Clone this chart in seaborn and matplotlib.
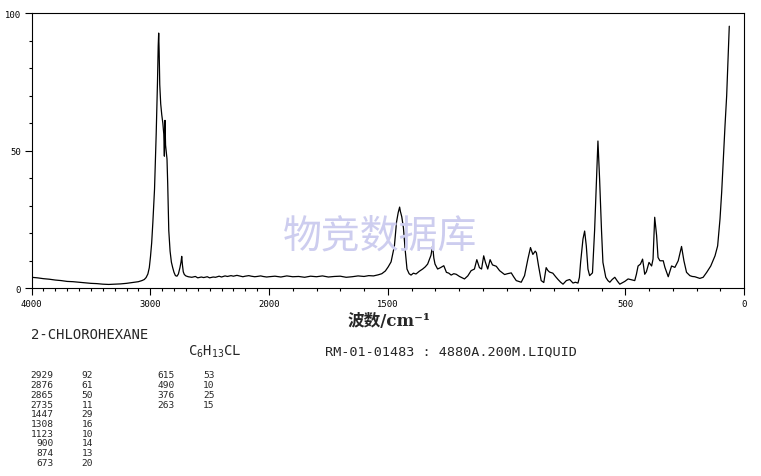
import numpy as np
import pandas as pd
import matplotlib

matplotlib.use("Agg")
import matplotlib.pyplot as plt
import seaborn as sns
from matplotlib.ticker import FixedLocator, FixedFormatter

######Spectrum values (wavenumber cm-1, intensity %)
wavenumber = [
    4000, 3950, 3900, 3850, 3800, 3750, 3700, 3650, 3600, 3550, 3500, 3450,
    3400, 3350, 3300, 3250, 3200, 3150, 3100, 3070, 3050, 3035, 3020, 3008,
    2998, 2988, 2978, 2964, 2950, 2939, 2933, 2929, 2925, 2920, 2912, 2903,
    2894, 2886, 2881, 2876, 2871, 2866, 2859, 2853, 2844, 2833, 2822, 2811,
    2800, 2788, 2775, 2763, 2750, 2741, 2735, 2729, 2722, 2713, 2700, 2680,
    2650, 2620, 2600, 2570, 2550, 2520, 2500, 2470, 2450, 2420, 2400, 2370,
    2350, 2320, 2300, 2270, 2250, 2220, 2200, 2170, 2150, 2120, 2100, 2070,
    2050, 2020, 2000, 1975, 1950, 1925, 1900, 1875, 1850, 1825, 1800, 1775,
    1750, 1725, 1700, 1675, 1650, 1625, 1600, 1580, 1560, 1540, 1525, 1510,
    1498, 1486, 1472, 1463, 1456, 1450, 1447, 1441, 1434, 1427, 1419, 1410,
    1402, 1392, 1381, 1367, 1353, 1342, 1332, 1318, 1311, 1306, 1301, 1290,
    1278, 1264, 1253, 1243, 1233, 1222, 1212, 1198, 1177, 1163, 1149, 1135,
    1125, 1114, 1105, 1096, 1089, 1079, 1069, 1059, 1043, 1029, 1008, 996,
    980, 970, 959, 948, 938, 924, 910, 899, 889, 879, 874, 865, 854, 843,
    833, 826, 819, 805, 793, 783, 772, 762, 748, 734, 720, 710, 699, 693,
    688, 678, 671, 664, 657, 650, 638, 629, 621, 615, 608, 600, 594, 582,
    573, 565, 555, 544, 533, 523, 512, 502, 488, 474, 460, 453, 446, 436,
    427, 418, 411, 400, 389, 383, 376, 368, 362, 354, 340, 333, 319, 305,
    291, 277, 263, 253, 242, 228, 218, 207, 196, 186, 172, 157, 140, 122,
    111, 101, 94, 87, 80, 73, 66, 62,
]
intensity = [
    4.0, 3.8, 3.5, 3.3, 3.0, 2.8, 2.5, 2.4, 2.2, 2.0, 1.8, 1.7,
    1.5, 1.4, 1.5, 1.6, 1.8, 2.1, 2.4, 2.8, 3.2, 3.9, 5.2, 7.5,
    11.5, 16.5, 24.0, 36.0, 56.0, 75.0, 88.0, 92.7, 86.0, 74.0, 67.0, 63.0,
    60.0, 56.0, 48.0, 61.0, 52.0, 50.0, 47.0, 38.0, 21.0, 13.5, 9.5, 7.5,
    5.8, 4.6, 4.4, 5.2, 7.5, 9.5, 11.6, 8.5, 6.0, 5.0, 4.5, 4.2,
    4.0, 4.3, 3.8, 4.1, 3.9, 4.2, 3.8, 4.1, 4.0, 4.4, 4.1, 4.5,
    4.3, 4.6, 4.4, 4.7, 4.5, 4.2, 4.4, 4.6, 4.4, 4.2, 4.3, 4.5,
    4.3, 4.1, 4.2, 4.4, 4.1, 4.5, 4.2, 4.3, 4.0, 4.4, 4.2, 4.5,
    4.1, 4.3, 4.4, 4.0, 4.2, 4.5, 4.3, 4.6, 4.5, 4.9, 5.3, 6.3,
    7.8, 9.6, 15.4, 24.1, 27.5, 29.5, 28.0, 26.0, 22.0, 14.3, 7.0, 5.3,
    4.8, 5.5, 5.2, 6.2, 7.0, 7.8, 8.8, 12.0, 15.5, 11.0, 8.8, 7.0,
    7.5, 8.2, 5.8, 5.5, 4.8, 5.3, 5.1, 4.3, 3.4, 4.5, 6.4, 7.0,
    10.4, 7.5, 7.0, 11.8, 9.5, 7.0, 10.4, 8.5, 8.0, 6.4, 5.0, 5.3,
    5.6, 4.2, 2.8, 2.5, 2.2, 4.6, 10.6, 14.8, 12.3, 13.5, 12.9, 8.1,
    2.8, 2.1, 7.5, 6.5, 5.9, 5.5, 4.2, 3.2, 2.2, 1.5, 2.8, 3.2,
    1.9, 2.2, 1.9, 4.0, 9.4, 17.9, 20.8, 15.4, 7.0, 4.6, 5.6, 21.1,
    39.7, 53.5, 39.7, 21.1, 9.4, 4.0, 2.8, 2.2, 3.2, 4.0, 2.6, 1.5,
    2.0, 2.5, 3.4, 3.1, 2.8, 5.1, 8.1, 8.8, 10.6, 5.1, 6.0, 9.4,
    8.1, 10.6, 25.8, 19.2, 11.2, 10.0, 10.0, 7.6, 4.2, 8.1, 7.6, 10.0,
    15.2, 10.0, 5.8, 4.6, 4.3, 4.2, 3.9, 3.6, 4.0, 5.8, 8.1, 11.8,
    15.4, 25.2, 34.9, 46.9, 59.0, 69.9, 85.6, 95.2,
]

######Peak table printed under the chart
peak_wn_a = [2929, 2876, 2865, 2735, 1447, 1308, 1123, 900, 874, 673]
peak_int_a = [92, 61, 50, 11, 29, 16, 10, 14, 13, 20]
peak_wn_b = [615, 490, 376, 263]
peak_int_b = [53, 10, 25, 15]

compound = "2-CHLOROHEXANE"
formula = "C$_6$H$_{13}$CL"
sample_info = "RM-01-01483 : 4880A.200M.LIQUID"
x_label = "波数/cm⁻¹"
watermark = "物竞数据库"

major_ticks = [4000, 3000, 2000, 1500, 500, 0]
major_labels = ["4000", "3000", "2000", "1500", "500", "0"]
y_ticks = [0, 50, 100]

spec = pd.DataFrame({"wn": wavenumber, "inten": intensity})

sns.set_style("ticks")
plt.rcParams["font.family"] = ["DejaVu Sans Mono", "DejaVu Sans"]
plt.rcParams["mathtext.fontset"] = "custom"
plt.rcParams["mathtext.rm"] = "DejaVu Sans Mono"
plt.rcParams["mathtext.it"] = "DejaVu Sans Mono"

W, H = 761, 477


def fx(px):
    return px / W


def fy(py):
    return 1 - py / H


# wavenumbers above 2000 are drawn at half scale
def fwd(x):
    x = np.asarray(x, dtype=float)
    return np.where(x > 2000, 2000 + (x - 2000) / 2.0, x)


def inv(x):
    x = np.asarray(x, dtype=float)
    return np.where(x > 2000, 2000 + (x - 2000) * 2.0, x)


fig = plt.figure(figsize=(W / 100, H / 100), dpi=100)
ax = fig.add_axes([fx(31.5), fy(289.3), fx(744) - fx(31.5), fy(14) - fy(289.3)])

fig.text(
    fx(380), fy(238), watermark, ha="center", va="center",
    fontsize=28, color="#cdcdef", family=["Noto Sans CJK SC"], zorder=0,
)
ax.patch.set_alpha(0)

sns.lineplot(data=spec, x="wn", y="inten", sort=False, color="black",
             linewidth=0.9, ax=ax, zorder=3)

ax.set_xscale("function", functions=(fwd, inv))
ax.set_xlim(4000, 0)
ax.set_ylim(0, 100)

ax.xaxis.set_major_locator(FixedLocator(major_ticks))
ax.xaxis.set_major_formatter(FixedFormatter(major_labels))
ax.xaxis.set_minor_locator(
    FixedLocator([v for v in range(0, 4001, 100) if v not in major_ticks])
)
ax.yaxis.set_major_locator(FixedLocator(y_ticks))
ax.yaxis.set_minor_locator(FixedLocator(list(range(10, 100, 10))))

ax.tick_params(which="major", direction="out", length=5, width=0.8,
               labelsize=6.4, pad=2.5, color="black", labelcolor="black")
ax.tick_params(which="minor", direction="out", length=2.5, width=0.8,
               color="black")
ax.tick_params(top=False, right=False, which="both")
for s in ax.spines.values():
    s.set_visible(True)
    s.set_color("black")
    s.set_linewidth(0.8)
ax.set_xlabel("")
ax.set_ylabel("")

fig.text(fx(389), fy(322), x_label, ha="center", va="center", fontsize=12,
         fontweight="bold", family=["DejaVu Serif", "Noto Sans CJK SC"])

fig.text(fx(31), fy(335), compound, ha="left", va="center", fontsize=10)
fig.text(fx(188), fy(352), formula, ha="left", va="center", fontsize=10)
fig.text(fx(325), fy(352), sample_info, ha="left", va="center", fontsize=9.7)

row_y = 376
for i, (w, v) in enumerate(zip(peak_wn_a, peak_int_a)):
    y = fy(row_y + i * 9.7)
    fig.text(fx(53.5), y, str(w), ha="right", va="center", fontsize=6.8)
    fig.text(fx(81.5), y, str(v), ha="left", va="center", fontsize=6.8)
for i, (w, v) in enumerate(zip(peak_wn_b, peak_int_b)):
    y = fy(row_y + i * 9.7)
    fig.text(fx(175), y, str(w), ha="right", va="center", fontsize=6.8)
    fig.text(fx(203.3), y, str(v), ha="left", va="center", fontsize=6.8)

plt.savefig("out.png", dpi=100, facecolor="white")
plt.close(fig)
